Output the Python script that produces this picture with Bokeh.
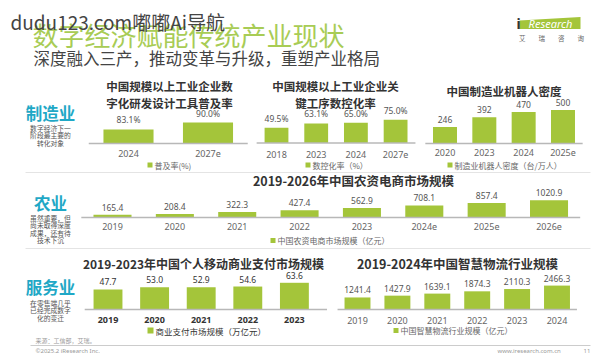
from bokeh.plotting import figure
from bokeh.models import Range1d
from bokeh.core.properties import value
from bokeh.embed import file_html
from bokeh.resources import INLINE

# ---------------- data ----------------
rd_years = ["2024", "2027e"]
rd_rate = [83.1, 90.0]
nc_years = ["2018", "2023", "2024", "2027e"]
nc_rate = [49.5, 63.1, 65.0, 75.0]
robot_years = ["2020", "2023", "2024", "2025e"]
robot_density = [246, 392, 470, 500]
agri_years = ["2019", "2020", "2021", "2022", "2023", "2024e", "2025e", "2026e"]
agri_market = [165.4, 208.4, 322.3, 427.4, 562.9, 708.1, 857.4, 1020.9]
pay_years = ["2019", "2020", "2021", "2022", "2023"]
pay_market = [47.7, 53.0, 52.9, 54.6, 63.6]
logi_years = ["2019", "2020", "2021", "2022", "2023", "2024"]
logi_market = [1241.4, 1427.9, 1639.1, 1874.3, 2110.3, 2466.3]

chart_titles = [
    ["中国规模以上工业企业数", "字化研发设计工具普及率"],
    ["中国规模以上工业企业关", "键工序数控化率"],
    ["中国制造业机器人密度"],
    ["2019-2026年中国农资电商市场规模"],
    ["2019-2023年中国个人移动商业支付市场规模"],
    ["2019-2024年中国智慧物流行业规模"],
]
legend_labels = [
    "普及率(%)",
    "数控化率（%）",
    "制造业机器人密度（台/万人）",
    "中国农资电商市场规模（亿元）",
    "商业支付市场规模（万亿元）",
    "中国智慧物流行业规模（亿元）",
]
sectors = ["制造业", "农业", "服务业"]
sector_notes = [
    ["数字经济下一", "阶段最主要的", "转化对象"],
    ["虽然重要，但", "尚未取得深度", "成果，还有待", "技术下沉"],
    ["在零售端几乎", "已经完成数字", "化的变迁"],
]
main_title = "数字经济赋能传统产业现状"
sub_title = "深度融入三产，推动变革与升级，重塑产业格局"
watermark = "dudu123.com嘟嘟Ai导航"

# ---------------- style ----------------
W, H = 600, 360
OX, OY = 8, 8          # layout coordinates below are measured from (8, 8)
GREEN = "#a4c53a"
TITLE_GREEN = "#a8cc55"
TEAL = "#1fa8c6"
CJK = "Noto Sans CJK SC"
NUM = "Noto Sans"

p = figure(width=W, height=H, x_range=Range1d(-OX, W - OX), y_range=Range1d(H - OY, -OY),
           output_backend="svg", toolbar_location=None, min_border=0,
           x_axis_location=None, y_axis_location=None, outline_line_color=None,
           background_fill_color="white", border_fill_color="white")
p.grid.grid_line_color = None


def txt(xs, ys, texts, size, color, align="left", baseline="middle",
        bold=False, font=CJK, italic=False, **kw):
    style = "bold" if bold else "normal"
    if italic:
        style = "bold italic" if bold else "italic"
    p.text(x=xs, y=ys, text=texts, text_font=value(font), text_font_size=f"{size}px",
           text_color=color, text_align=align, text_baseline=baseline,
           text_font_style=style, **kw)


def bar_chart(name, cats, vals, labels, c0, step, base_y, k, base_val, bar_w,
              lab_color="#555555", cat_color="#666666", cat_bold=False,
              cat_gap=10, pad_r=0.0):
    n = len(cats)
    x0 = -(c0 + OX) / step
    p.extra_x_ranges[name] = Range1d(start=x0, end=x0 + W / step)
    ye = base_val + (base_y + OY) / k
    p.extra_y_ranges[name] = Range1d(start=ye - H / k, end=ye)
    kw = dict(x_range_name=name, y_range_name=name)
    idx = list(range(n))
    p.vbar(x=idx, width=bar_w, top=vals, bottom=base_val,
           fill_color=GREEN, line_color=None, **kw)
    p.segment(x0=[-0.5], y0=[base_val], x1=[n - 0.5 + pad_r], y1=[base_val],
              line_color="#b8b8b8", line_width=1.5, **kw)
    txt(idx, [v + 4 / k for v in vals], labels, 8.5, lab_color, align="center",
        baseline="bottom", font=NUM, **kw)
    txt(idx, [base_val - cat_gap / k] * n, cats, 9, cat_color, align="center",
        font=NUM, bold=cat_bold, **kw)


def legend(x, y, label, color="#666666", size=5, fs=8):
    p.rect(x=[x], y=[y], width=size, height=size, fill_color=GREEN, line_color=None)
    txt([x + size / 2 + 2], [y], [label], fs, color)


# ---------------- header ----------------
txt([24], [26], [main_title], 26, TITLE_GREEN)
txt([2], [13], [watermark], 19, "#444444")
txt([25], [49], [sub_title], 16.5, "#444444")
# logo
p.patch(x=[511, 572, 572, 511], y=[12, 8.5, 20.5, 20.5], fill_color=GREEN, line_color=None)
txt([508], [15], ["i"], 14, "#333333", bold=True, font=NUM)
txt([542], [15], ["Research"], 11, "white", align="center", font=NUM, italic=True)
txt([543], [29], ["艾　　瑞　　咨　　询"], 6.5, "#666666", align="center")

# separators
p.segment(x0=[17, 17], y0=[164, 240], x1=[582, 582], y1=[164, 240],
          line_color="#e4e4e4", line_width=1)

# ---------------- side labels ----------------
side_y = [104.5, 194, 278.5]
note_y0 = [119, 209, 294]
for s, sy, notes, ny in zip(sectors, side_y, sector_notes, note_y0):
    txt([42], [sy], [s], 16.5, TEAL, align="center", bold=True)
    txt([42] * len(notes), [ny + 7.6 * i for i in range(len(notes))], notes, 6.8,
        "#555555", align="center")

# ---------------- charts ----------------
bar_chart("c1", rd_years, rd_rate, [f"{v:.1f}%" for v in rd_rate],
          c0=120, step=79.5, base_y=135, k=1.0, base_val=69, bar_w=0.63)
bar_chart("c2", nc_years, nc_rate, [f"{v:.1f}%" for v in nc_rate],
          c0=268, step=39.7, base_y=134.5, k=0.31, base_val=0, bar_w=0.6, cat_gap=11)
bar_chart("c3", robot_years, robot_density, [f"{v:d}" for v in robot_density],
          c0=436.5, step=39.33, base_y=135, k=0.067, base_val=0, bar_w=0.61, cat_gap=9)
bar_chart("c4", agri_years, agri_market, [f"{v:.1f}" for v in agri_market],
          c0=104, step=62.36, base_y=209, k=0.017, base_val=0, bar_w=0.61, cat_gap=9)
bar_chart("c5", pay_years, pay_market, [f"{v:.1f}" for v in pay_market],
          c0=99.5, step=46.6, base_y=301, k=0.42, base_val=0, bar_w=0.62,
          lab_color="#333333", cat_color="#333333", cat_bold=True, pad_r=0.2)
bar_chart("c6", logi_years, logi_market, [f"{v:.1f}" for v in logi_market],
          c0=349, step=39.9, base_y=301, k=0.0097, base_val=0, bar_w=0.65, cat_gap=11)

# chart titles
title_pos = [(161, 77), (327, 77), (495.5, 82), (345, 172), (195, 255), (449, 255)]
title_size = [11.5, 11.5, 11.5, 12.5, 12, 12.5]
for lines, (tx, ty), fs in zip(chart_titles, title_pos, title_size):
    txt([tx] * len(lines), [ty + 17 * i for i in range(len(lines))], lines, fs,
        "#333333", align="center", bold=True)

# legends
legend_pos = [(141.5, 156.5), (299.5, 156.5), (441.5, 156.5), (264.5, 232),
              (142, 322), (387.5, 322)]
for i, (lab, (lx, ly)) in enumerate(zip(legend_labels, legend_pos)):
    if i == 4:
        legend(lx, ly, lab, color="#333333", size=6, fs=8.5)
    else:
        legend(lx, ly, lab)

# ---------------- footer ----------------
txt([27], [332], ["来源：工信部，艾瑞。"], 6, "#999999")
p.segment(x0=[22], y0=[337], x1=[582], y1=[337], line_color="#cccccc", line_width=1)
txt([27], [342], ["©2025.2 iResearch Inc."], 6, "#999999", font=NUM)
txt([489], [342], ["www.iresearch.com.cn"], 6, "#999999", font=NUM)
txt([575], [342], ["11"], 6, "#999999", font=NUM)

open("out.html", "w").write(file_html(p, INLINE))
